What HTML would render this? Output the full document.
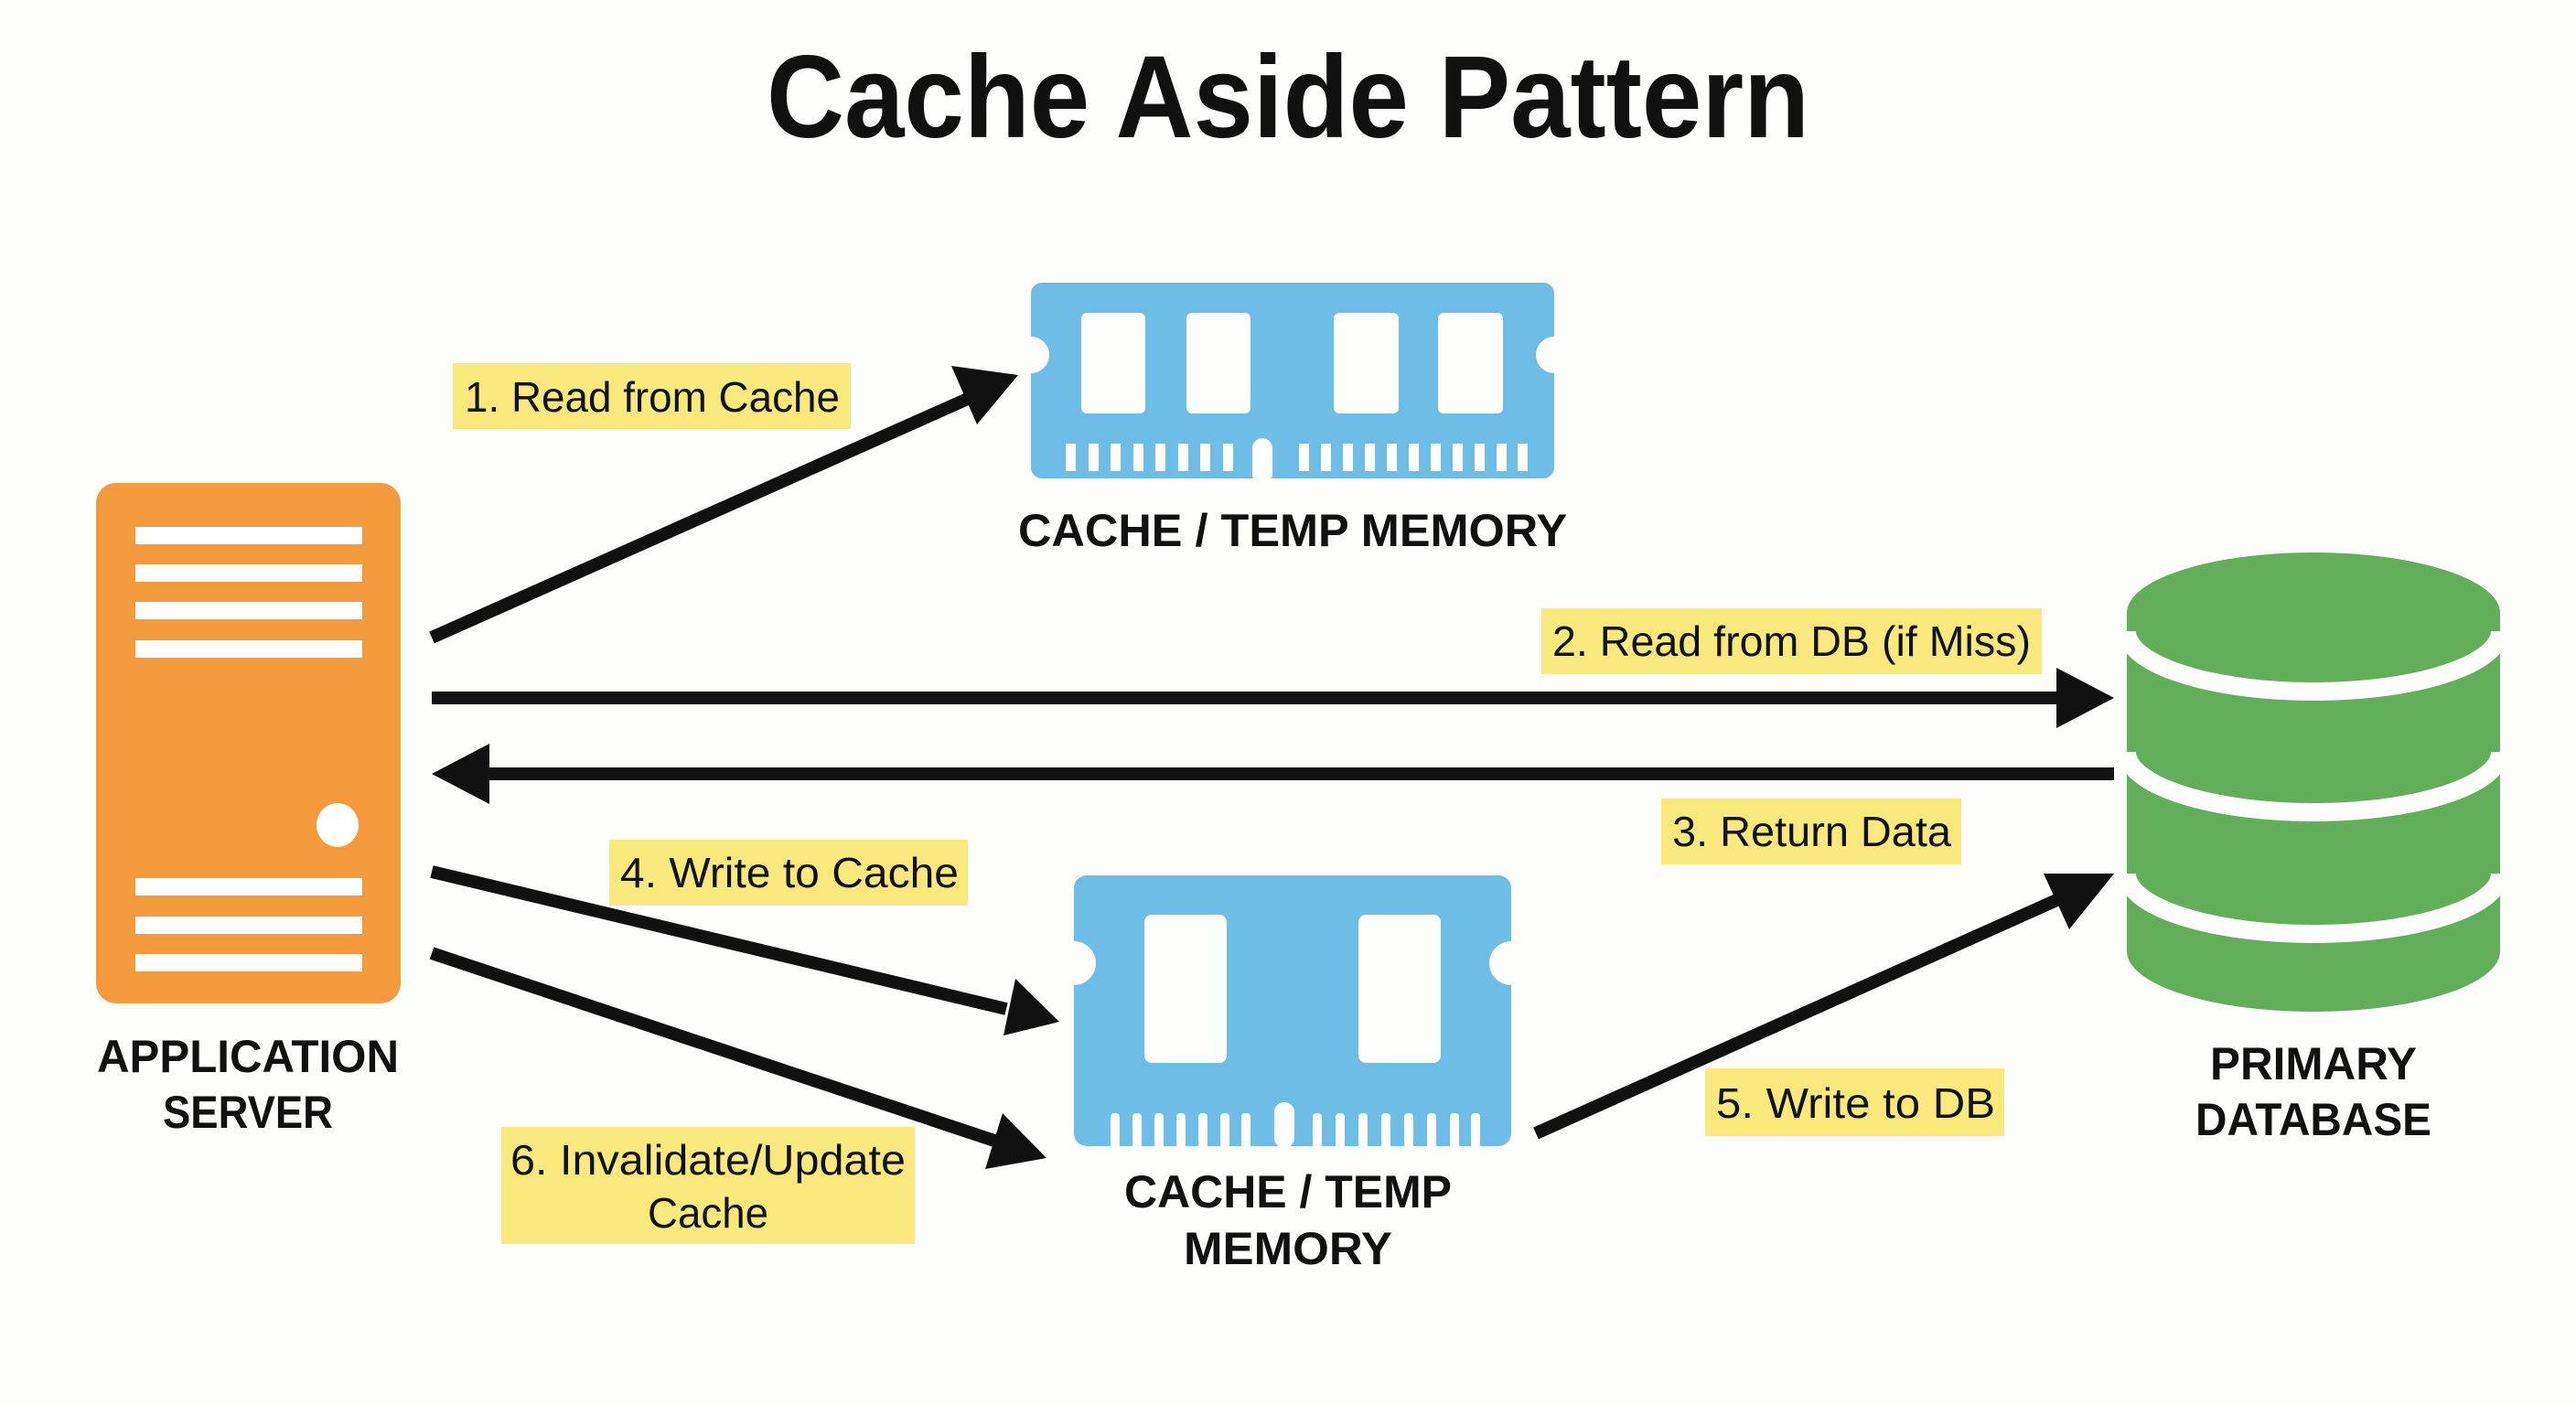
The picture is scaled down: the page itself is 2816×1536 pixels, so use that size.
<!DOCTYPE html>
<html><head><meta charset="utf-8"><style>
html,body{margin:0;padding:0;background:#fdfdfc;}
svg{display:block;}
text{font-family:"Liberation Sans",sans-serif;fill:#111;}
</style></head><body>
<svg width="2816" height="1536" viewBox="0 0 2816 1536" xmlns="http://www.w3.org/2000/svg">
<rect width="2816" height="1536" fill="#fdfdfc"/>
<text x="1408" y="150" text-anchor="middle" font-size="128" font-weight="bold" textLength="1140" lengthAdjust="spacingAndGlyphs">Cache Aside Pattern</text>

<!-- Server -->
<rect x="105" y="528" width="333" height="569" rx="22" fill="#f39a3d"/>
<g fill="#fff">
<rect x="148" y="576" width="248" height="19"/><rect x="148" y="617" width="248" height="19"/>
<rect x="148" y="658" width="248" height="19"/><rect x="148" y="700" width="248" height="19"/>
<ellipse cx="369" cy="902" rx="23" ry="24"/>
<rect x="148" y="960" width="248" height="19"/><rect x="148" y="1002" width="248" height="19"/>
<rect x="148" y="1043" width="248" height="19"/>
</g>
<text x="271" y="1172" text-anchor="middle" font-size="50" font-weight="bold" textLength="330" lengthAdjust="spacingAndGlyphs">APPLICATION</text>
<text x="271" y="1233" text-anchor="middle" font-size="50" font-weight="bold" textLength="186" lengthAdjust="spacingAndGlyphs">SERVER</text>

<!-- Top cache -->
<rect x="1127" y="309" width="572" height="214" rx="12" fill="#6dbde7"/>
<g fill="#fdfdfc">
<circle cx="1127" cy="388" r="20"/><circle cx="1699" cy="388" r="20"/>
<rect x="1182" y="342" width="70" height="110" rx="6"/><rect x="1297" y="342" width="70" height="110" rx="6"/>
<rect x="1458" y="342" width="71" height="110" rx="6"/><rect x="1572" y="342" width="71" height="110" rx="6"/>
<rect x="1369" y="479" width="22" height="50" rx="11"/>
<rect x="1165" y="485" width="11" height="30"/><rect x="1190" y="485" width="11" height="30"/><rect x="1214" y="485" width="11" height="30"/><rect x="1239" y="485" width="11" height="30"/><rect x="1263" y="485" width="11" height="30"/><rect x="1288" y="485" width="11" height="30"/><rect x="1312" y="485" width="11" height="30"/><rect x="1337" y="485" width="11" height="30"/>
<rect x="1420" y="485" width="11" height="30"/><rect x="1444" y="485" width="11" height="30"/><rect x="1468" y="485" width="11" height="30"/><rect x="1492" y="485" width="11" height="30"/><rect x="1516" y="485" width="11" height="30"/><rect x="1540" y="485" width="11" height="30"/><rect x="1564" y="485" width="11" height="30"/><rect x="1588" y="485" width="11" height="30"/><rect x="1612" y="485" width="11" height="30"/><rect x="1636" y="485" width="11" height="30"/><rect x="1659" y="485" width="11" height="30"/>
</g>
<text x="1413" y="597" text-anchor="middle" font-size="50" font-weight="bold" textLength="600" lengthAdjust="spacingAndGlyphs">CACHE / TEMP MEMORY</text>

<!-- Bottom cache -->
<rect x="1174" y="957" width="478" height="296" rx="14" fill="#6dbde7"/>
<g fill="#fdfdfc">
<circle cx="1174" cy="1053" r="24"/><circle cx="1652" cy="1053" r="24"/>
<rect x="1251" y="1000" width="90" height="162" rx="8"/><rect x="1485" y="1000" width="90" height="162" rx="8"/>
<rect x="1393" y="1205" width="22" height="50" rx="11"/>
<rect x="1214" y="1217" width="10" height="40" rx="4"/><rect x="1238" y="1217" width="10" height="40" rx="4"/><rect x="1262" y="1217" width="10" height="40" rx="4"/><rect x="1286" y="1217" width="10" height="40" rx="4"/><rect x="1310" y="1217" width="10" height="40" rx="4"/><rect x="1334" y="1217" width="10" height="40" rx="4"/><rect x="1357" y="1217" width="10" height="40" rx="4"/>
<rect x="1435" y="1217" width="10" height="40" rx="4"/><rect x="1460" y="1217" width="10" height="40" rx="4"/><rect x="1485" y="1217" width="10" height="40" rx="4"/><rect x="1510" y="1217" width="10" height="40" rx="4"/><rect x="1535" y="1217" width="10" height="40" rx="4"/><rect x="1560" y="1217" width="10" height="40" rx="4"/><rect x="1585" y="1217" width="10" height="40" rx="4"/><rect x="1608" y="1217" width="10" height="40" rx="4"/>
</g>
<text x="1408" y="1320" text-anchor="middle" font-size="50" font-weight="bold" textLength="358" lengthAdjust="spacingAndGlyphs">CACHE / TEMP</text>
<text x="1408" y="1382" text-anchor="middle" font-size="50" font-weight="bold" textLength="228" lengthAdjust="spacingAndGlyphs">MEMORY</text>

<!-- Database -->
<g fill="#62ae5a">
<path d="M2325 670 A204 66 0 0 1 2733 670 L2733 1040 A204 66 0 0 1 2325 1040 Z"/>
</g>
<g fill="none" stroke="#fdfdfc" stroke-width="20">
<path d="M2325 690 A204 66 0 0 0 2733 690"/>
<path d="M2325 822 A204 66 0 0 0 2733 822"/>
<path d="M2325 955 A204 66 0 0 0 2733 955"/>
</g>
<text x="2529" y="1180" text-anchor="middle" font-size="50" font-weight="bold" textLength="226" lengthAdjust="spacingAndGlyphs">PRIMARY</text>
<text x="2529" y="1241" text-anchor="middle" font-size="50" font-weight="bold" textLength="258" lengthAdjust="spacingAndGlyphs">DATABASE</text>

<!-- Arrows -->
<g stroke="#111" stroke-width="14" fill="none">
<line x1="472" y1="697" x2="1060" y2="435"/>
<line x1="472" y1="763" x2="2255" y2="763"/>
<line x1="2311" y1="846" x2="530" y2="846"/>
<line x1="472" y1="953" x2="1100" y2="1103"/>
<line x1="472" y1="1042" x2="1090" y2="1248"/>
<line x1="1679" y1="1239" x2="2255" y2="981"/>
</g>
<g fill="#111">
<polygon points="1113,410 1040,400 1068,464"/>
<polygon points="2311,763 2248,730 2248,796"/>
<polygon points="472,846 535,813 535,879"/>
<polygon points="1158,1117 1110,1070 1097,1132"/>
<polygon points="1144,1266 1096,1217 1077,1278"/>
<polygon points="2311,955 2234,955 2262,1016"/>
</g>

<!-- Labels -->
<g fill="#f9e97c">
<rect x="495" y="397" width="435" height="72"/>
<rect x="1685" y="665" width="547" height="72"/>
<rect x="1816" y="873" width="328" height="72"/>
<rect x="666" y="918" width="392" height="72"/>
<rect x="1864" y="1168" width="327" height="74"/>
<rect x="548" y="1232" width="452" height="128"/>
</g>
<g font-size="46">
<text x="508" y="450" textLength="410" lengthAdjust="spacingAndGlyphs">1. Read from Cache</text>
<text x="1697" y="717" textLength="523" lengthAdjust="spacingAndGlyphs">2. Read from DB (if Miss)</text>
<text x="1828" y="925" textLength="305" lengthAdjust="spacingAndGlyphs">3. Return Data</text>
<text x="678" y="970" textLength="370" lengthAdjust="spacingAndGlyphs">4. Write to Cache</text>
<text x="1876" y="1222" textLength="305" lengthAdjust="spacingAndGlyphs">5. Write to DB</text>
<text x="774" y="1284" text-anchor="middle" textLength="432" lengthAdjust="spacingAndGlyphs">6. Invalidate/Update</text>
<text x="774" y="1342" text-anchor="middle" textLength="132" lengthAdjust="spacingAndGlyphs">Cache</text>
</g>
</svg>
</body></html>
